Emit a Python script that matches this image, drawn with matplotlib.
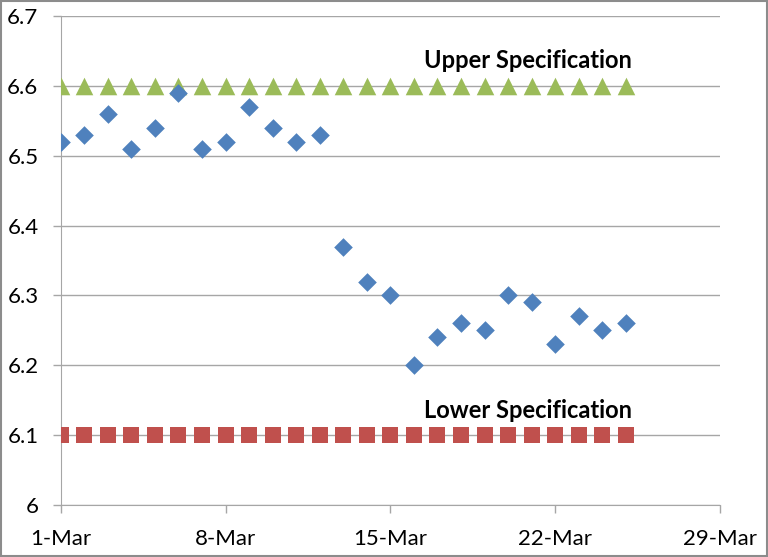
import matplotlib
matplotlib.use("Agg")
import matplotlib.pyplot as plt
import matplotlib.dates as mdates
import datetime as dt

plt.rcParams['font.family'] = ['Lato', 'DejaVu Sans']

days = list(range(1, 26))
measurements = [6.52, 6.53, 6.56, 6.51, 6.54, 6.59, 6.51, 6.52, 6.57, 6.54, 6.52, 6.53,
                6.37, 6.32, 6.30, 6.20, 6.24, 6.26, 6.25, 6.30, 6.29, 6.23, 6.27, 6.25, 6.26]
upper_spec = [6.6] * 25
lower_spec = [6.1] * 25
tick_days = [1, 8, 15, 22, 29]
y_ticks = [6.0, 6.1, 6.2, 6.3, 6.4, 6.5, 6.6, 6.7]
y_labels = ["6", "6.1", "6.2", "6.3", "6.4", "6.5", "6.6", "6.7"]

dates = [dt.date(2013, 3, d) for d in days]
tick_dates = [dt.date(2013, 3, d) for d in tick_days]

fig = plt.figure(figsize=(7.68, 5.57), dpi=100)
ax = fig.add_axes([0.079, 0.0934, 0.8585, 0.8776])

grid_c = '#a6a6a6'
ax.set_ylim(6.0, 6.7)
ax.set_xlim(mdates.date2num(tick_dates[0]), mdates.date2num(tick_dates[-1]))
ax.set_yticks(y_ticks)
ax.set_yticklabels(y_labels)
ax.set_xticks([mdates.date2num(d) for d in tick_dates])
ax.set_xticklabels([f"{d}-Mar" for d in tick_days])
ax.yaxis.grid(True, color=grid_c, linewidth=1)
ax.set_axisbelow(True)
for s in ['top', 'right']:
    ax.spines[s].set_visible(False)
for s in ['left', 'bottom']:
    ax.spines[s].set_color(grid_c)
ax.tick_params(axis='y', length=6, width=1, direction='out', color=grid_c,
               labelsize=16, pad=10, labelcolor='black')
ax.tick_params(axis='x', length=6, width=1, direction='out', color=grid_c,
               labelsize=16, pad=11, labelcolor='black')

ax.scatter(dates, lower_spec, marker='s', s=130, color='#C0504D', zorder=3, linewidths=0)
ax.scatter(dates, upper_spec, marker='^', s=160, color='#9BBB59', zorder=3, linewidths=0)
ax.scatter(dates, measurements, marker='D', s=90, color='#4F81BD', zorder=4, linewidths=0)

xr = mdates.date2num(dt.date(2013, 3, 25)) + 0.27
ax.text(xr, 6.637, "Upper Specification", ha='right', va='center', fontsize=17, fontweight='bold')
ax.text(xr, 6.136, "Lower Specification", ha='right', va='center', fontsize=17, fontweight='bold')

border = plt.Rectangle((0.001, 0.001), 0.998, 0.998, transform=fig.transFigure,
                       fill=False, edgecolor='#8c8c8c', linewidth=1.5)
fig.patches.append(border)

fig.savefig("out.png", dpi=100)
